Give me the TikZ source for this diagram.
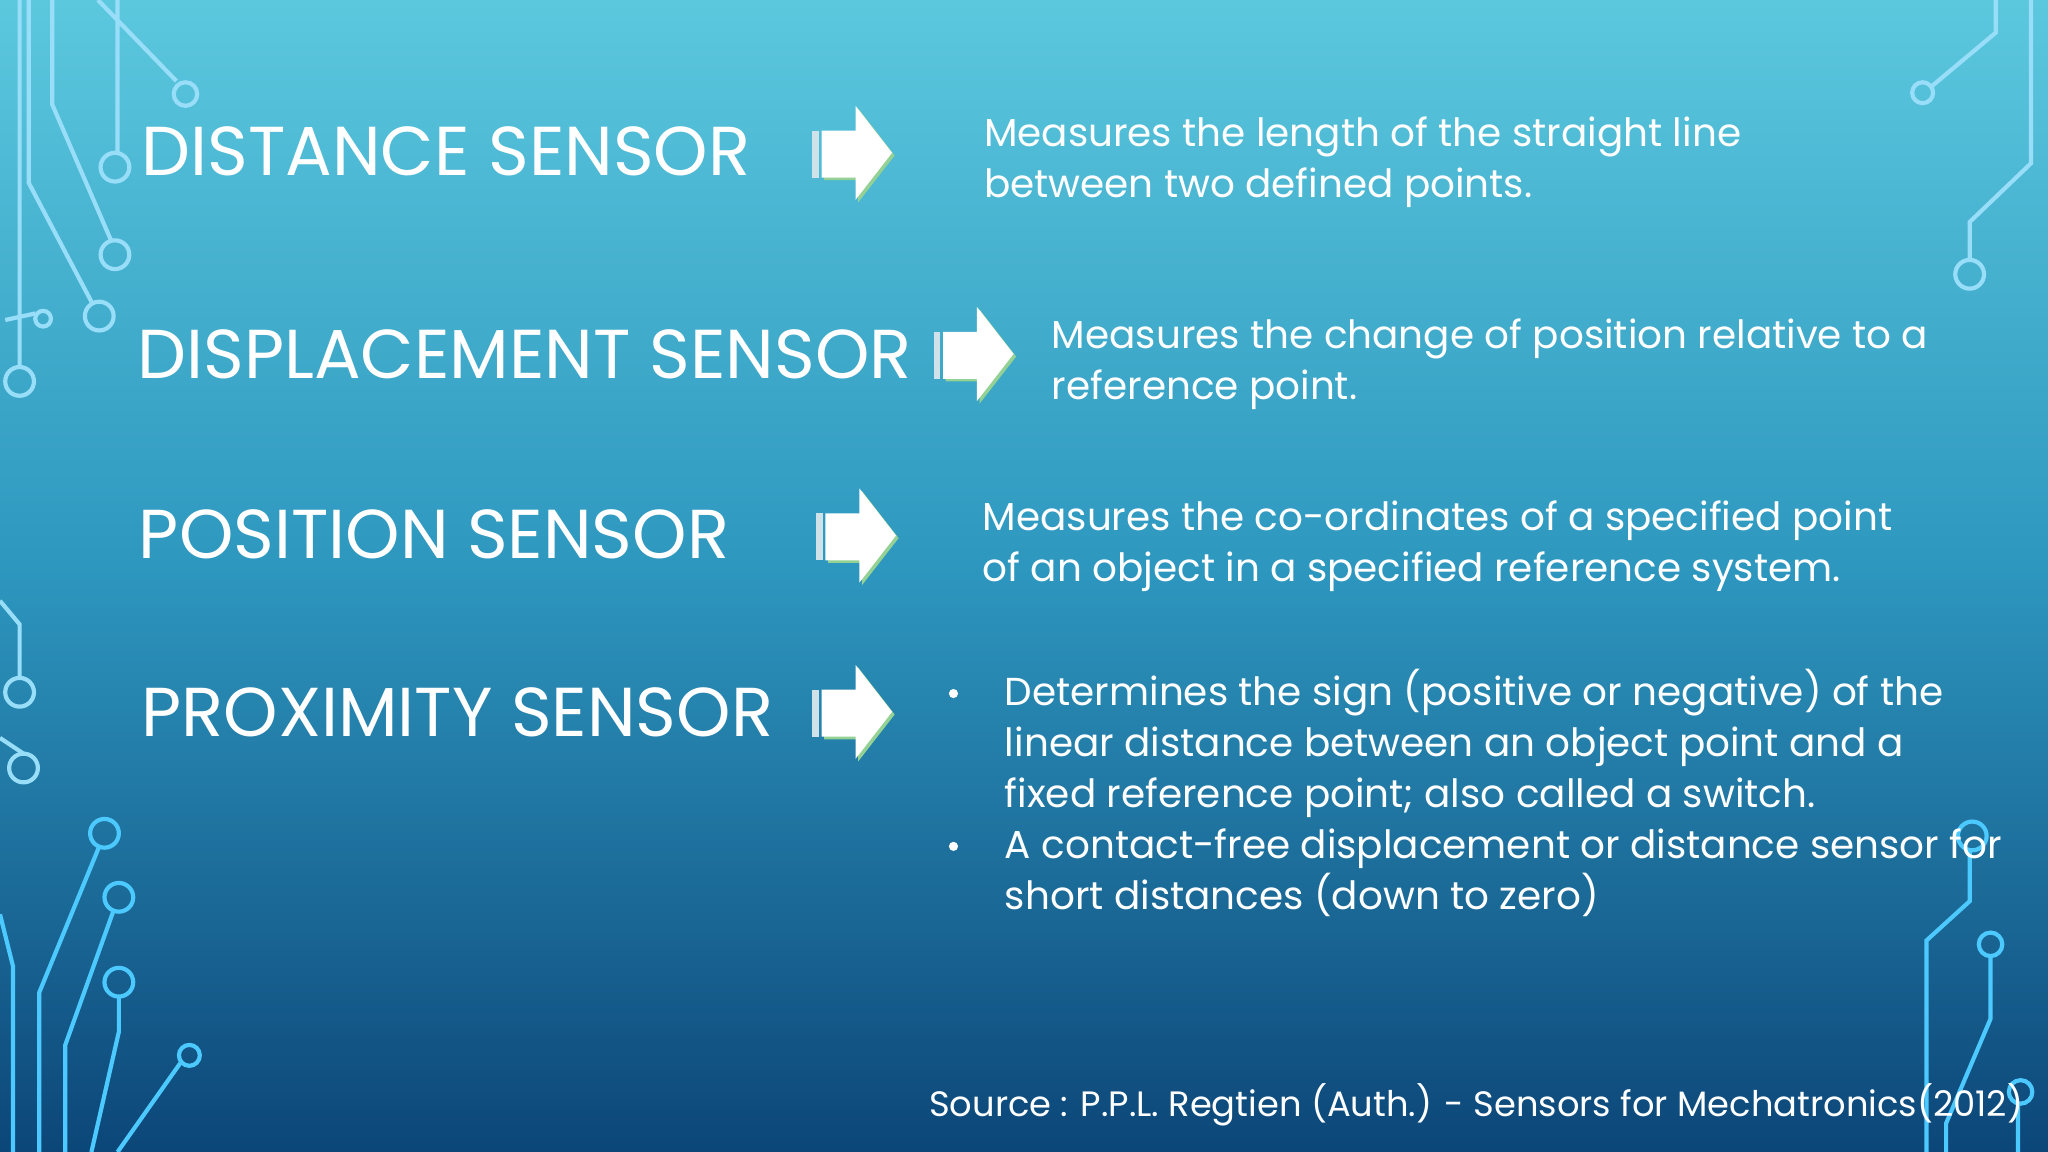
\documentclass[tikz,border=0pt]{standalone}
\usepackage{fontspec}
\setmainfont{Poppins}
\begin{document}
\begin{tikzpicture}[x=0.5pt,y=-0.5pt,
  ttl/.style={anchor=west,text=white,font=\fontsize{26.5}{30}\selectfont,inner sep=0},
  desc/.style={anchor=north west,text=white,font=\fontsize{14.9}{19.5}\selectfont,inner sep=0,align=left},
  cl/.style={draw=cyan!40!white,line width=1.6pt},
  cb/.style={draw=blue!30!cyan!70!white,line width=1.6pt}]
\shade[top color={rgb,255:red,92;green,200;blue,222},bottom color={rgb,255:red,12;green,70;blue,120},middle color={rgb,255:red,45;green,150;blue,190}] (0,0) rectangle (1568,882);
\useasboundingbox (0,0) rectangle (1568,882);
% circuits
\draw[cl] (90,0)--(90,117) (75,0)--(135,62) (40,0)--(40,80)--(85,184) (22,0)--(22,140)--(70,231) (15,0)--(15,281) (4,245)--(27,240) (0,460)--(15,478)--(15,519) (0,565)--(18,577);
\draw[cl] (88,128) circle (11) (142,72) circle (9) (88,195) circle (11) (76,242) circle (11) (15,292) circle (11) (33,244) circle (6) (15,530) circle (11) (18,588) circle (11);
\draw[cb] (0,700)--(10,740)--(10,882) (30,882)--(30,760)--(76,648) (50,882)--(50,800)--(87,697) (70,882)--(91,790)--(91,763) (90,882)--(138,814);
\draw[cb] (80,638) circle (11) (91,687) circle (11) (91,752) circle (11) (145,808) circle (8);
\draw[cl] (1528,0)--(1528,25)--(1479,66) (1555,0)--(1555,125)--(1508,170)--(1508,199);
\draw[cl] (1472,71) circle (8) (1508,210) circle (11);
\draw[cb] (1508,651)--(1508,690)--(1475,720)--(1475,882) (1524,732)--(1524,780)--(1490,860)--(1490,882) (1545,882)--(1545,846);
\draw[cb] (1510,640) circle (11) (1524,723) circle (9) (1547,836) circle (9);
% arrows
\foreach \n/\x/\y in {a/630/117,b/723/271,c/633/410,d/630/545}{
  \fill[gray!60!cyan!30!white] (\x-8,\y-17) rectangle (\x-3,\y+19);
  \fill[green!40!gray!60!white] (\x+1,\y-15) -- (\x+27,\y-15) -- (\x+27,\y-34) -- (\x+55,\y+2) -- (\x+27,\y+38) -- (\x+27,\y+21) -- (\x+1,\y+21) -- cycle;
  \fill[white] (\x-1,\y-17) -- (\x+25,\y-17) -- (\x+25,\y-36) -- (\x+53,\y) -- (\x+25,\y+36) -- (\x+25,\y+19) -- (\x-1,\y+19) -- cycle;
}
% titles
\node[ttl] (t1) at (108,116) {DISTANCE SENSOR};
\node[ttl] (t2) at (105,271) {DISPLACEMENT SENSOR};
\node[ttl] (t3) at (106,409) {POSITION SENSOR};
\node[ttl] (t4) at (108,545) {PROXIMITY SENSOR};
% descriptions
\node[desc] (d1) at (753,89) {Measures the length of the straight line\\between two defined points.};
\node[desc] (d2) at (805,244) {Measures the change of position relative to a\\reference point.};
\node[desc] (d3) at (752,383) {Measures the co-ordinates of a specified point\\of an object in a specified reference system.};
\node[desc] (d4) at (769,512) {Determines the sign (positive or negative) of the\\linear distance between an object point and a\\fixed reference point; also called a switch.\\A contact-free displacement or distance sensor for\\short distances (down to zero)};
\fill[white] (730,531) circle (3.5) (730,648) circle (3.5);
\node[desc,anchor=west,font=\fontsize{13.5}{19.5}\selectfont] (src) at (711,846) {Source : P.P.L. Regtien (Auth.) - Sensors for Mechatronics(2012)};
\end{tikzpicture}
\end{document}
